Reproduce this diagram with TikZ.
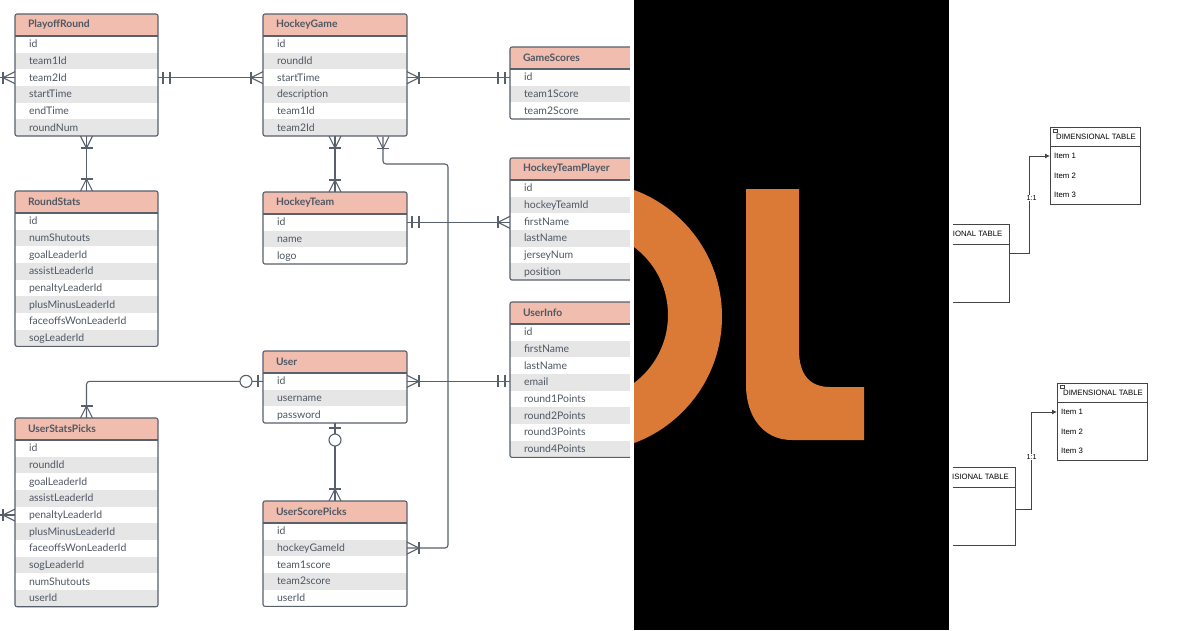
\documentclass[tikz,border=0pt]{standalone}
\usepackage{fontspec}
\usepackage{xcolor}
\usetikzlibrary{positioning,fit,arrows.meta}
\setmainfont{Lato}
\newfontfamily\dimfont{Liberation Sans}

\definecolor{headpink}{HTML}{F0BDAF}
\definecolor{rowgray}{HTML}{E6E6E6}
\definecolor{erslate}{HTML}{58606C}
\definecolor{ertext}{HTML}{4E5763}
\definecolor{logoorange}{HTML}{DB7936}
\definecolor{dimline}{HTML}{444444}

\tikzset{
	headbox/.style={fill=headpink, inner xsep=14pt, inner ysep=0pt, outer sep=0pt, minimum height=22pt, align=left, text=ertext, font=\fontsize{10.3}{12}\selectfont\bfseries},
	rowbox/.style={inner xsep=14pt, inner ysep=0pt, outer sep=0pt, minimum height=16.67pt, text height=9.5pt, text depth=2.5pt, align=left, text=ertext, font=\fontsize{10.45}{12}\selectfont},
	tablebox/.style={draw=erslate, line width=1.1pt, rounded corners=2pt, inner sep=0pt, outer sep=0pt},
	erline/.style={draw=erslate, line width=1.1pt},
	dimbox/.style={draw=dimline, line width=0.9pt, minimum width=90pt, minimum height=77pt, anchor=north west, inner sep=0pt},
	dimline/.style={draw=dimline, line width=0.9pt},
	dimhead/.style={text=black, inner sep=0pt, font=\dimfont\fontsize{7.75}{10}\selectfont},
	dimitem/.style={text=black, inner sep=0pt, anchor=west, font=\dimfont\fontsize{7.8}{9}\selectfont},
	crowmany/.pic={
		\draw[erline] (0,-6) -- (12,0) -- (0,6);
		\draw[erline] (12,-6) -- (12,6);
	},
	oneone/.pic={
		\draw[erline] (5,-6) -- (5,6);
		\draw[erline] (12,-6) -- (12,6);
	},
	zeroone/.pic={
		\draw[erline] (5,-6) -- (5,6);
		\draw[erline, fill=white] (17,0) circle[radius=6];
	}
}

\newcommand{\ertable}[6]{
	\node[headbox, text width=#4pt-28pt, anchor=north west] (#1-head) at (#2,#3) {\hspace*{-1pt}#5};
	\xdef\prevrow{#1-head}
	\foreach \rowname [count=\rownum] in {#6} {
		\ifodd\rownum \def\rowfill{white}\else \def\rowfill{rowgray}\fi
		\node[rowbox, fill=\rowfill, text width=#4pt-28pt, below=0pt of \prevrow] (#1-\rownum) {\rowname};
		\xdef\prevrow{#1-\rownum}
	}
	\node[tablebox, fit=(#1-head)(\prevrow)] (#1) {};
	\draw[erline] (#1-head.south west) -- (#1-head.south east);
}

\newcommand{\dimtable}[3]{
	\node[dimbox] (#1) at (#2,#3) {};
	\draw[dimline] ([yshift=-19pt]#1.north west) -- ([yshift=-19pt]#1.north east);
	\node[dimhead, anchor=west] (#1-title) at ([xshift=6pt,yshift=-10pt]#1.north west) {DIMENSIONAL TABLE};
	\node[draw=dimline, line width=0.4pt, minimum width=4pt, minimum height=3pt, inner sep=0pt] (#1-toggle) at ([xshift=5.5pt,yshift=-3.8pt]#1.north west) {};
	\foreach \itemnum/\itemdrop in {1/29,2/49,3/68} {
		\node[dimitem] (#1-\itemnum) at ([xshift=4pt,yshift=-\itemdrop pt]#1.north west) {Item \itemnum};
	}
}

\begin{document}
\begin{tikzpicture}[x=1pt,y=-1pt]
	\useasboundingbox (0,0) rectangle (1200,630);
	\fill[white] (0,0) rectangle (1200,630);

	\ertable{PlayoffRound}{15}{14}{143}{PlayoffRound}{id,team1Id,team2Id,startTime,endTime,roundNum}
	\ertable{RoundStats}{15}{191}{143}{RoundStats}{id,numShutouts,goalLeaderId,assistLeaderId,penaltyLeaderId,plusMinusLeaderId,faceoffsWonLeaderId,sogLeaderId}
	\ertable{UserStatsPicks}{15}{418}{143}{UserStatsPicks}{id,roundId,goalLeaderId,assistLeaderId,penaltyLeaderId,plusMinusLeaderId,faceoffsWonLeaderId,sogLeaderId,numShutouts,userId}
	\ertable{HockeyGame}{263}{14}{144}{HockeyGame}{id,roundId,startTime,description,team1Id,team2Id}
	\ertable{HockeyTeam}{263}{192}{144}{HockeyTeam}{id,name,logo}
	\ertable{User}{263}{351}{144}{User}{id,username,password}
	\ertable{UserScorePicks}{263}{501}{144}{UserScorePicks}{id,hockeyGameId,team1score,team2score,userId}
	\ertable{GameScores}{510}{47}{140}{GameScores}{id,team1Score,team2Score}
	\ertable{HockeyTeamPlayer}{510}{158}{140}{HockeyTeamPlayer}{id,hockeyTeamId,firstName,lastName,jerseyNum,position}
	\ertable{UserInfo}{510}{302}{140}{UserInfo}{id,firstName,lastName,email,round1Points,round2Points,round3Points,round4Points}

	\coordinate (offleft) at (0,0);
	\coordinate (gameport) at (383,136.5);
	\coordinate (gameturn) at (448,164);

	\draw[erline] (PlayoffRound-3.west) -- (PlayoffRound-3.west -| offleft);
	\draw[erline] (UserStatsPicks-5.west) -- (UserStatsPicks-5.west -| offleft);
	\draw[erline] (PlayoffRound-3.east) -- (HockeyGame-3.west);
	\draw[erline] (PlayoffRound.south) -- (PlayoffRound.south |- RoundStats.north);
	\draw[erline] (HockeyGame-3.east) -- (HockeyGame-3.east -| GameScores.west);
	\draw[erline] (HockeyGame.south) -- (HockeyGame.south |- HockeyTeam.north);
	\draw[erline] (HockeyTeam-1.east) -- (HockeyTeam-1.east -| HockeyTeamPlayer.west);
	\draw[erline] (User-1.east) -- (User-1.east -| UserInfo.west);
	\draw[erline] (User.south) -- (User.south |- UserScorePicks.north);
	\draw[erline, rounded corners=3pt] (User-1.west) -| (UserStatsPicks.north);
	\draw[erline, rounded corners=3pt] (gameport) |- (gameturn) |- (UserScorePicks-2.east);

	\pic[rotate=180] at (PlayoffRound-3.west) {crowmany};
	\pic[rotate=180] at (UserStatsPicks-5.west) {crowmany};
	\pic at (PlayoffRound-3.east) {oneone};
	\pic[rotate=180] at (HockeyGame-3.west) {crowmany};
	\pic[rotate=-90] at (PlayoffRound.south) {crowmany};
	\pic[rotate=90] at (RoundStats.north) {crowmany};
	\pic at (HockeyGame-3.east) {crowmany};
	\pic[rotate=180] at (HockeyGame-3.east -| GameScores.west) {oneone};
	\pic[rotate=-90] at (HockeyGame.south) {crowmany};
	\pic[rotate=90] at (HockeyTeam.north) {crowmany};
	\pic[rotate=-90] at (gameport) {crowmany};
	\pic at (UserScorePicks-2.east) {crowmany};
	\pic at (HockeyTeam-1.east) {oneone};
	\pic[rotate=180] at (HockeyTeam-1.east -| HockeyTeamPlayer.west) {crowmany};
	\pic at (User-1.east) {crowmany};
	\pic[rotate=180] at (User-1.east -| UserInfo.west) {oneone};
	\pic[rotate=180] at (User-1.west) {zeroone};
	\pic[rotate=90] at (UserStatsPicks.north) {crowmany};
	\pic[rotate=-90] at (User.south) {zeroone};
	\pic[rotate=90] at (UserScorePicks.north) {crowmany};

	\fill[white] (630,0) rectangle (634,630);
	\fill[black] (634,0) rectangle (949,630);
	\begin{scope}
		\clip (634,0) rectangle (949,630);
		\fill[logoorange, even odd rule] (587,316.5) circle[radius=135] (583,315) circle[radius=85];
	\end{scope}
	\fill[logoorange] (746,189) -- (799,189) -- (799,350) .. controls (799,375) and (810,387) .. (830,387) -- (864,387) -- (864,440) -- (792,440) .. controls (762,440) and (746,415) .. (746,385) -- cycle;

	\dimtable{dimtop}{1050}{127}
	\dimtable{dimlow}{1057}{383}

	\coordinate (dimleftA) at (953,224);
	\coordinate (dimleftB) at (953,467);
	\draw[dimline] (dimleftA) -- ++(56,0) -- ++(0,78) -- ++(-56,0);
	\draw[dimline] ([yshift=-20pt]dimleftA) -- ++(56,0);
	\draw[dimline] (dimleftB) -- ++(62,0) -- ++(0,78) -- ++(-62,0);
	\draw[dimline] ([yshift=-20pt]dimleftB) -- ++(62,0);
	\node[dimhead, anchor=east] (dimleftA-title) at (1002.5,234) {IONAL TABLE};
	\node[dimhead, anchor=east] (dimleftB-title) at (1009,477) {ISIONAL TABLE};
	\coordinate (dimportA) at (1009,253);
	\coordinate (dimportB) at (1015,509);

	\draw[dimline, -{Latex[length=5pt,width=5pt]}] (dimportA) -- ++(20.5,0) |- (dimtop.west |- dimtop-1);
	\draw[dimline, -{Latex[length=5pt,width=5pt]}] (dimportB) -- ++(16,0) |- (dimlow.west |- dimlow-1);
	\node[fill=white, inner sep=1pt, text=black, font=\dimfont\fontsize{7.2}{9}\selectfont] (ratioA) at (1031.5,198) {1:1};
	\node[fill=white, inner sep=1pt, text=black, font=\dimfont\fontsize{7.2}{9}\selectfont] (ratioB) at (1031.5,457) {1:1};
\end{tikzpicture}
\end{document}
